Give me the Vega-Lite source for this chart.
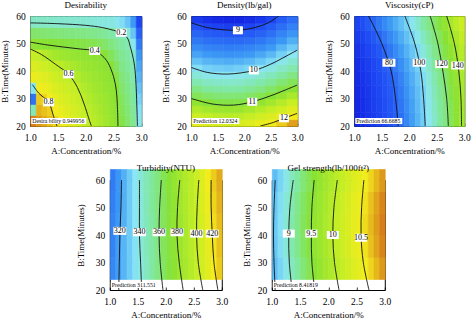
{
"$schema":"https://vega.github.io/schema/vega-lite/v6.json",
"background":"white",
"padding":{"left":0,"top":0,"right":0,"bottom":0},
"config":{
"font":"Liberation Serif",
"view":{"stroke":"#000","strokeWidth":1},
"title":{"font":"Liberation Serif","fontSize":9,"fontWeight":"normal","color":"#000","offset":1,"anchor":"middle"},
"axis":{"labelFont":"Liberation Serif","labelFontSize":9.5,"labelColor":"#000","titleFont":"Liberation Serif","titleFontSize":9,"titleFontWeight":"normal","titleColor":"#000","domain":false,"ticks":true,"tickSize":-3,"tickColor":"#000","tickWidth":0.8,"labelPadding":8,"titlePadding":6,"grid":false,"labelFlush":false,"labelOverlap":false},
"axisX":{"labelPadding":9,"titlePadding":5},
"text":{"font":"Liberation Serif"}
},
"datasets":{
"des":[
{"a":1.05,"b":22,"v":0.915},{"a":1.05,"b":26,"v":0.2},{"a":1.05,"b":30,"v":0.05},{"a":1.05,"b":34,"v":0.15},{"a":1.05,"b":38,"v":0.744},{"a":1.05,"b":42,"v":0.683},{"a":1.05,"b":46,"v":0.623},{"a":1.05,"b":50,"v":0.421},{"a":1.05,"b":54,"v":0.297},{"a":1.05,"b":58,"v":0.186},
{"a":1.15,"b":22,"v":0.886},{"a":1.15,"b":26,"v":0.852},{"a":1.15,"b":30,"v":0.817},{"a":1.15,"b":34,"v":0.772},{"a":1.15,"b":38,"v":0.717},{"a":1.15,"b":42,"v":0.662},{"a":1.15,"b":46,"v":0.607},{"a":1.15,"b":50,"v":0.4},{"a":1.15,"b":54,"v":0.292},{"a":1.15,"b":58,"v":0.184},
{"a":1.25,"b":22,"v":0.858},{"a":1.25,"b":26,"v":0.829},{"a":1.25,"b":30,"v":0.801},{"a":1.25,"b":34,"v":0.749},{"a":1.25,"b":38,"v":0.696},{"a":1.25,"b":42,"v":0.643},{"a":1.25,"b":46,"v":0.568},{"a":1.25,"b":50,"v":0.392},{"a":1.25,"b":54,"v":0.288},{"a":1.25,"b":58,"v":0.184},
{"a":1.35,"b":22,"v":0.83},{"a":1.35,"b":26,"v":0.808},{"a":1.35,"b":30,"v":0.77},{"a":1.35,"b":34,"v":0.721},{"a":1.35,"b":38,"v":0.672},{"a":1.35,"b":42,"v":0.623},{"a":1.35,"b":46,"v":0.524},{"a":1.35,"b":50,"v":0.385},{"a":1.35,"b":54,"v":0.284},{"a":1.35,"b":58,"v":0.182},
{"a":1.45,"b":22,"v":0.798},{"a":1.45,"b":26,"v":0.759},{"a":1.45,"b":30,"v":0.721},{"a":1.45,"b":34,"v":0.682},{"a":1.45,"b":38,"v":0.644},{"a":1.45,"b":42,"v":0.605},{"a":1.45,"b":46,"v":0.494},{"a":1.45,"b":50,"v":0.378},{"a":1.45,"b":54,"v":0.279},{"a":1.45,"b":58,"v":0.18},
{"a":1.55,"b":22,"v":0.76},{"a":1.55,"b":26,"v":0.726},{"a":1.55,"b":30,"v":0.693},{"a":1.55,"b":34,"v":0.659},{"a":1.55,"b":38,"v":0.625},{"a":1.55,"b":42,"v":0.574},{"a":1.55,"b":46,"v":0.472},{"a":1.55,"b":50,"v":0.371},{"a":1.55,"b":54,"v":0.275},{"a":1.55,"b":58,"v":0.178},
{"a":1.65,"b":22,"v":0.73},{"a":1.65,"b":26,"v":0.7},{"a":1.65,"b":30,"v":0.67},{"a":1.65,"b":34,"v":0.64},{"a":1.65,"b":38,"v":0.611},{"a":1.65,"b":42,"v":0.544},{"a":1.65,"b":46,"v":0.457},{"a":1.65,"b":50,"v":0.367},{"a":1.65,"b":54,"v":0.271},{"a":1.65,"b":58,"v":0.177},
{"a":1.75,"b":22,"v":0.7},{"a":1.75,"b":26,"v":0.673},{"a":1.75,"b":30,"v":0.647},{"a":1.75,"b":34,"v":0.62},{"a":1.75,"b":38,"v":0.582},{"a":1.75,"b":42,"v":0.512},{"a":1.75,"b":46,"v":0.442},{"a":1.75,"b":50,"v":0.362},{"a":1.75,"b":54,"v":0.268},{"a":1.75,"b":58,"v":0.175},
{"a":1.85,"b":22,"v":0.669},{"a":1.85,"b":26,"v":0.646},{"a":1.85,"b":30,"v":0.623},{"a":1.85,"b":34,"v":0.6},{"a":1.85,"b":38,"v":0.543},{"a":1.85,"b":42,"v":0.487},{"a":1.85,"b":46,"v":0.43},{"a":1.85,"b":50,"v":0.356},{"a":1.85,"b":54,"v":0.264},{"a":1.85,"b":58,"v":0.174},
{"a":1.95,"b":22,"v":0.637},{"a":1.95,"b":26,"v":0.616},{"a":1.95,"b":30,"v":0.589},{"a":1.95,"b":34,"v":0.547},{"a":1.95,"b":38,"v":0.505},{"a":1.95,"b":42,"v":0.462},{"a":1.95,"b":46,"v":0.42},{"a":1.95,"b":50,"v":0.352},{"a":1.95,"b":54,"v":0.261},{"a":1.95,"b":58,"v":0.172},
{"a":2.05,"b":22,"v":0.605},{"a":2.05,"b":26,"v":0.576},{"a":2.05,"b":30,"v":0.543},{"a":2.05,"b":34,"v":0.511},{"a":2.05,"b":38,"v":0.478},{"a":2.05,"b":42,"v":0.446},{"a":2.05,"b":46,"v":0.413},{"a":2.05,"b":50,"v":0.346},{"a":2.05,"b":54,"v":0.256},{"a":2.05,"b":58,"v":0.17},
{"a":2.15,"b":22,"v":0.566},{"a":2.15,"b":26,"v":0.54},{"a":2.15,"b":30,"v":0.513},{"a":2.15,"b":34,"v":0.487},{"a":2.15,"b":38,"v":0.461},{"a":2.15,"b":42,"v":0.435},{"a":2.15,"b":46,"v":0.408},{"a":2.15,"b":50,"v":0.339},{"a":2.15,"b":54,"v":0.249},{"a":2.15,"b":58,"v":0.167},
{"a":2.25,"b":22,"v":0.527},{"a":2.25,"b":26,"v":0.506},{"a":2.25,"b":30,"v":0.485},{"a":2.25,"b":34,"v":0.464},{"a":2.25,"b":38,"v":0.443},{"a":2.25,"b":42,"v":0.422},{"a":2.25,"b":46,"v":0.401},{"a":2.25,"b":50,"v":0.32},{"a":2.25,"b":54,"v":0.239},{"a":2.25,"b":58,"v":0.164},
{"a":2.35,"b":22,"v":0.488},{"a":2.35,"b":26,"v":0.472},{"a":2.35,"b":30,"v":0.457},{"a":2.35,"b":34,"v":0.441},{"a":2.35,"b":38,"v":0.425},{"a":2.35,"b":42,"v":0.409},{"a":2.35,"b":46,"v":0.37},{"a":2.35,"b":50,"v":0.299},{"a":2.35,"b":54,"v":0.228},{"a":2.35,"b":58,"v":0.162},
{"a":2.45,"b":22,"v":0.449},{"a":2.45,"b":26,"v":0.438},{"a":2.45,"b":30,"v":0.428},{"a":2.45,"b":34,"v":0.417},{"a":2.45,"b":38,"v":0.407},{"a":2.45,"b":42,"v":0.379},{"a":2.45,"b":46,"v":0.325},{"a":2.45,"b":50,"v":0.27},{"a":2.45,"b":54,"v":0.215},{"a":2.45,"b":58,"v":0.159},
{"a":2.55,"b":22,"v":0.411},{"a":2.55,"b":26,"v":0.407},{"a":2.55,"b":30,"v":0.403},{"a":2.55,"b":34,"v":0.391},{"a":2.55,"b":38,"v":0.354},{"a":2.55,"b":42,"v":0.316},{"a":2.55,"b":46,"v":0.279},{"a":2.55,"b":50,"v":0.242},{"a":2.55,"b":54,"v":0.205},{"a":2.55,"b":58,"v":0.149},
{"a":2.65,"b":22,"v":0.351},{"a":2.65,"b":26,"v":0.332},{"a":2.65,"b":30,"v":0.313},{"a":2.65,"b":34,"v":0.294},{"a":2.65,"b":38,"v":0.275},{"a":2.65,"b":42,"v":0.256},{"a":2.65,"b":46,"v":0.237},{"a":2.65,"b":50,"v":0.218},{"a":2.65,"b":54,"v":0.195},{"a":2.65,"b":58,"v":0.132},
{"a":2.75,"b":22,"v":0.297},{"a":2.75,"b":26,"v":0.284},{"a":2.75,"b":30,"v":0.271},{"a":2.75,"b":34,"v":0.258},{"a":2.75,"b":38,"v":0.245},{"a":2.75,"b":42,"v":0.232},{"a":2.75,"b":46,"v":0.219},{"a":2.75,"b":50,"v":0.206},{"a":2.75,"b":54,"v":0.17},{"a":2.75,"b":58,"v":0.11},
{"a":2.85,"b":22,"v":0.242},{"a":2.85,"b":26,"v":0.235},{"a":2.85,"b":30,"v":0.227},{"a":2.85,"b":34,"v":0.22},{"a":2.85,"b":38,"v":0.212},{"a":2.85,"b":42,"v":0.205},{"a":2.85,"b":46,"v":0.187},{"a":2.85,"b":50,"v":0.148},{"a":2.85,"b":54,"v":0.109},{"a":2.85,"b":58,"v":0.07},
{"a":2.95,"b":22,"v":0.15},{"a":2.95,"b":26,"v":0.136},{"a":2.95,"b":30,"v":0.123},{"a":2.95,"b":34,"v":0.109},{"a":2.95,"b":38,"v":0.095},{"a":2.95,"b":42,"v":0.082},{"a":2.95,"b":46,"v":0.068},{"a":2.95,"b":50,"v":0.054},{"a":2.95,"b":54,"v":0.04},{"a":2.95,"b":58,"v":0.027}
],
"dens":[
{"a":1.1,"b":21.25,"v":11.83},{"a":1.1,"b":23.75,"v":11.58},{"a":1.1,"b":26.25,"v":11.33},{"a":1.1,"b":28.75,"v":11.08},{"a":1.1,"b":31.25,"v":10.84},{"a":1.1,"b":33.75,"v":10.62},{"a":1.1,"b":36.25,"v":10.4},{"a":1.1,"b":38.75,"v":10.17},{"a":1.1,"b":41.25,"v":9.97},{"a":1.1,"b":43.75,"v":9.81},{"a":1.1,"b":46.25,"v":9.66},{"a":1.1,"b":48.75,"v":9.5},{"a":1.1,"b":51.25,"v":9.35},{"a":1.1,"b":53.75,"v":9.19},{"a":1.1,"b":56.25,"v":9.04},{"a":1.1,"b":58.75,"v":8.89},
{"a":1.3,"b":21.25,"v":11.73},{"a":1.3,"b":23.75,"v":11.48},{"a":1.3,"b":26.25,"v":11.23},{"a":1.3,"b":28.75,"v":10.98},{"a":1.3,"b":31.25,"v":10.75},{"a":1.3,"b":33.75,"v":10.52},{"a":1.3,"b":36.25,"v":10.3},{"a":1.3,"b":38.75,"v":10.07},{"a":1.3,"b":41.25,"v":9.89},{"a":1.3,"b":43.75,"v":9.74},{"a":1.3,"b":46.25,"v":9.59},{"a":1.3,"b":48.75,"v":9.43},{"a":1.3,"b":51.25,"v":9.28},{"a":1.3,"b":53.75,"v":9.13},{"a":1.3,"b":56.25,"v":8.97},{"a":1.3,"b":58.75,"v":8.82},
{"a":1.5,"b":21.25,"v":11.67},{"a":1.5,"b":23.75,"v":11.42},{"a":1.5,"b":26.25,"v":11.17},{"a":1.5,"b":28.75,"v":10.92},{"a":1.5,"b":31.25,"v":10.7},{"a":1.5,"b":33.75,"v":10.48},{"a":1.5,"b":36.25,"v":10.26},{"a":1.5,"b":38.75,"v":10.04},{"a":1.5,"b":41.25,"v":9.87},{"a":1.5,"b":43.75,"v":9.72},{"a":1.5,"b":46.25,"v":9.56},{"a":1.5,"b":48.75,"v":9.41},{"a":1.5,"b":51.25,"v":9.25},{"a":1.5,"b":53.75,"v":9.1},{"a":1.5,"b":56.25,"v":8.94},{"a":1.5,"b":58.75,"v":8.79},
{"a":1.7,"b":21.25,"v":11.65},{"a":1.7,"b":23.75,"v":11.4},{"a":1.7,"b":26.25,"v":11.15},{"a":1.7,"b":28.75,"v":10.91},{"a":1.7,"b":31.25,"v":10.68},{"a":1.7,"b":33.75,"v":10.46},{"a":1.7,"b":36.25,"v":10.24},{"a":1.7,"b":38.75,"v":10.01},{"a":1.7,"b":41.25,"v":9.85},{"a":1.7,"b":43.75,"v":9.7},{"a":1.7,"b":46.25,"v":9.54},{"a":1.7,"b":48.75,"v":9.38},{"a":1.7,"b":51.25,"v":9.23},{"a":1.7,"b":53.75,"v":9.07},{"a":1.7,"b":56.25,"v":8.92},{"a":1.7,"b":58.75,"v":8.77},
{"a":1.9,"b":21.25,"v":11.67},{"a":1.9,"b":23.75,"v":11.41},{"a":1.9,"b":26.25,"v":11.16},{"a":1.9,"b":28.75,"v":10.92},{"a":1.9,"b":31.25,"v":10.7},{"a":1.9,"b":33.75,"v":10.49},{"a":1.9,"b":36.25,"v":10.27},{"a":1.9,"b":38.75,"v":10.06},{"a":1.9,"b":41.25,"v":9.88},{"a":1.9,"b":43.75,"v":9.72},{"a":1.9,"b":46.25,"v":9.56},{"a":1.9,"b":48.75,"v":9.4},{"a":1.9,"b":51.25,"v":9.23},{"a":1.9,"b":53.75,"v":9.07},{"a":1.9,"b":56.25,"v":8.92},{"a":1.9,"b":58.75,"v":8.77},
{"a":2.1,"b":21.25,"v":11.75},{"a":2.1,"b":23.75,"v":11.5},{"a":2.1,"b":26.25,"v":11.24},{"a":2.1,"b":28.75,"v":10.99},{"a":2.1,"b":31.25,"v":10.77},{"a":2.1,"b":33.75,"v":10.55},{"a":2.1,"b":36.25,"v":10.33},{"a":2.1,"b":38.75,"v":10.11},{"a":2.1,"b":41.25,"v":9.92},{"a":2.1,"b":43.75,"v":9.76},{"a":2.1,"b":46.25,"v":9.6},{"a":2.1,"b":48.75,"v":9.44},{"a":2.1,"b":51.25,"v":9.27},{"a":2.1,"b":53.75,"v":9.11},{"a":2.1,"b":56.25,"v":8.96},{"a":2.1,"b":58.75,"v":8.81},
{"a":2.3,"b":21.25,"v":11.87},{"a":2.3,"b":23.75,"v":11.61},{"a":2.3,"b":26.25,"v":11.36},{"a":2.3,"b":28.75,"v":11.1},{"a":2.3,"b":31.25,"v":10.86},{"a":2.3,"b":33.75,"v":10.64},{"a":2.3,"b":36.25,"v":10.43},{"a":2.3,"b":38.75,"v":10.21},{"a":2.3,"b":41.25,"v":9.99},{"a":2.3,"b":43.75,"v":9.83},{"a":2.3,"b":46.25,"v":9.67},{"a":2.3,"b":48.75,"v":9.5},{"a":2.3,"b":51.25,"v":9.34},{"a":2.3,"b":53.75,"v":9.18},{"a":2.3,"b":56.25,"v":9.02},{"a":2.3,"b":58.75,"v":8.87},
{"a":2.5,"b":21.25,"v":11.98},{"a":2.5,"b":23.75,"v":11.73},{"a":2.5,"b":26.25,"v":11.48},{"a":2.5,"b":28.75,"v":11.23},{"a":2.5,"b":31.25,"v":10.98},{"a":2.5,"b":33.75,"v":10.76},{"a":2.5,"b":36.25,"v":10.54},{"a":2.5,"b":38.75,"v":10.33},{"a":2.5,"b":41.25,"v":10.11},{"a":2.5,"b":43.75,"v":9.92},{"a":2.5,"b":46.25,"v":9.76},{"a":2.5,"b":48.75,"v":9.6},{"a":2.5,"b":51.25,"v":9.44},{"a":2.5,"b":53.75,"v":9.28},{"a":2.5,"b":56.25,"v":9.12},{"a":2.5,"b":58.75,"v":8.96},
{"a":2.7,"b":21.25,"v":12.11},{"a":2.7,"b":23.75,"v":11.87},{"a":2.7,"b":26.25,"v":11.62},{"a":2.7,"b":28.75,"v":11.37},{"a":2.7,"b":31.25,"v":11.12},{"a":2.7,"b":33.75,"v":10.9},{"a":2.7,"b":36.25,"v":10.69},{"a":2.7,"b":38.75,"v":10.48},{"a":2.7,"b":41.25,"v":10.27},{"a":2.7,"b":43.75,"v":10.06},{"a":2.7,"b":46.25,"v":9.89},{"a":2.7,"b":48.75,"v":9.74},{"a":2.7,"b":51.25,"v":9.58},{"a":2.7,"b":53.75,"v":9.43},{"a":2.7,"b":56.25,"v":9.27},{"a":2.7,"b":58.75,"v":9.12},
{"a":2.9,"b":21.25,"v":12.26},{"a":2.9,"b":23.75,"v":12.01},{"a":2.9,"b":26.25,"v":11.77},{"a":2.9,"b":28.75,"v":11.52},{"a":2.9,"b":31.25,"v":11.28},{"a":2.9,"b":33.75,"v":11.03},{"a":2.9,"b":36.25,"v":10.83},{"a":2.9,"b":38.75,"v":10.63},{"a":2.9,"b":41.25,"v":10.42},{"a":2.9,"b":43.75,"v":10.22},{"a":2.9,"b":46.25,"v":10.02},{"a":2.9,"b":48.75,"v":9.86},{"a":2.9,"b":51.25,"v":9.71},{"a":2.9,"b":53.75,"v":9.56},{"a":2.9,"b":56.25,"v":9.41},{"a":2.9,"b":58.75,"v":9.26}
],
"visc":[
{"a":1.05,"b":22.5,"v":67.6},{"a":1.15,"b":22.5,"v":69.3},{"a":1.25,"b":22.5,"v":71.0},{"a":1.35,"b":22.5,"v":72.6},{"a":1.45,"b":22.5,"v":74.3},{"a":1.55,"b":22.5,"v":76.0},{"a":1.65,"b":22.5,"v":77.7},{"a":1.75,"b":22.5,"v":79.3},{"a":1.85,"b":22.5,"v":82.4},{"a":1.95,"b":22.5,"v":86.5},{"a":2.05,"b":22.5,"v":90.6},{"a":2.15,"b":22.5,"v":94.7},{"a":2.25,"b":22.5,"v":98.8},{"a":2.35,"b":22.5,"v":103.3},{"a":2.45,"b":22.5,"v":108.1},{"a":2.55,"b":22.5,"v":112.9},{"a":2.65,"b":22.5,"v":117.6},{"a":2.75,"b":22.5,"v":124.0},{"a":2.85,"b":22.5,"v":132.0},{"a":2.95,"b":22.5,"v":140.0},
{"a":1.05,"b":27.5,"v":67.8},{"a":1.15,"b":27.5,"v":69.5},{"a":1.25,"b":27.5,"v":71.2},{"a":1.35,"b":27.5,"v":72.9},{"a":1.45,"b":27.5,"v":74.6},{"a":1.55,"b":27.5,"v":76.4},{"a":1.65,"b":27.5,"v":78.1},{"a":1.75,"b":27.5,"v":79.8},{"a":1.85,"b":27.5,"v":83.5},{"a":1.95,"b":27.5,"v":87.4},{"a":2.05,"b":27.5,"v":91.4},{"a":2.15,"b":27.5,"v":95.3},{"a":2.25,"b":27.5,"v":99.2},{"a":2.35,"b":27.5,"v":103.8},{"a":2.45,"b":27.5,"v":108.6},{"a":2.55,"b":27.5,"v":113.3},{"a":2.65,"b":27.5,"v":118.1},{"a":2.75,"b":27.5,"v":124.8},{"a":2.85,"b":27.5,"v":132.8},{"a":2.95,"b":27.5,"v":141.0},
{"a":1.05,"b":32.5,"v":68.2},{"a":1.15,"b":32.5,"v":69.9},{"a":1.25,"b":32.5,"v":71.7},{"a":1.35,"b":32.5,"v":73.4},{"a":1.45,"b":32.5,"v":75.1},{"a":1.55,"b":32.5,"v":76.9},{"a":1.65,"b":32.5,"v":78.6},{"a":1.75,"b":32.5,"v":80.8},{"a":1.85,"b":32.5,"v":84.6},{"a":1.95,"b":32.5,"v":88.5},{"a":2.05,"b":32.5,"v":92.3},{"a":2.15,"b":32.5,"v":96.2},{"a":2.25,"b":32.5,"v":100.0},{"a":2.35,"b":32.5,"v":104.9},{"a":2.45,"b":32.5,"v":109.8},{"a":2.55,"b":32.5,"v":114.6},{"a":2.65,"b":32.5,"v":119.5},{"a":2.75,"b":32.5,"v":126.7},{"a":2.85,"b":32.5,"v":134.1},{"a":2.95,"b":32.5,"v":141.9},
{"a":1.05,"b":37.5,"v":68.7},{"a":1.15,"b":37.5,"v":70.5},{"a":1.25,"b":37.5,"v":72.2},{"a":1.35,"b":37.5,"v":74.0},{"a":1.45,"b":37.5,"v":75.8},{"a":1.55,"b":37.5,"v":77.5},{"a":1.65,"b":37.5,"v":79.3},{"a":1.75,"b":37.5,"v":82.3},{"a":1.85,"b":37.5,"v":86.0},{"a":1.95,"b":37.5,"v":89.8},{"a":2.05,"b":37.5,"v":93.6},{"a":2.15,"b":37.5,"v":97.3},{"a":2.25,"b":37.5,"v":101.5},{"a":2.35,"b":37.5,"v":106.3},{"a":2.45,"b":37.5,"v":111.2},{"a":2.55,"b":37.5,"v":116.1},{"a":2.65,"b":37.5,"v":121.4},{"a":2.75,"b":37.5,"v":128.6},{"a":2.85,"b":37.5,"v":135.7},{"a":2.95,"b":37.5,"v":143.7},
{"a":1.05,"b":42.5,"v":69.4},{"a":1.15,"b":42.5,"v":71.2},{"a":1.25,"b":42.5,"v":73.1},{"a":1.35,"b":42.5,"v":74.9},{"a":1.45,"b":42.5,"v":76.7},{"a":1.55,"b":42.5,"v":78.5},{"a":1.65,"b":42.5,"v":80.7},{"a":1.75,"b":42.5,"v":84.4},{"a":1.85,"b":42.5,"v":88.0},{"a":1.95,"b":42.5,"v":91.6},{"a":2.05,"b":42.5,"v":95.3},{"a":2.15,"b":42.5,"v":98.9},{"a":2.25,"b":42.5,"v":103.4},{"a":2.35,"b":42.5,"v":108.3},{"a":2.45,"b":42.5,"v":113.2},{"a":2.55,"b":42.5,"v":118.1},{"a":2.65,"b":42.5,"v":124.1},{"a":2.75,"b":42.5,"v":131.0},{"a":2.85,"b":42.5,"v":137.9},{"a":2.95,"b":42.5,"v":146.1},
{"a":1.05,"b":47.5,"v":70.5},{"a":1.15,"b":47.5,"v":72.4},{"a":1.25,"b":47.5,"v":74.4},{"a":1.35,"b":47.5,"v":76.3},{"a":1.45,"b":47.5,"v":78.2},{"a":1.55,"b":47.5,"v":80.3},{"a":1.65,"b":47.5,"v":83.7},{"a":1.75,"b":47.5,"v":87.1},{"a":1.85,"b":47.5,"v":90.5},{"a":1.95,"b":47.5,"v":93.9},{"a":2.05,"b":47.5,"v":97.3},{"a":2.15,"b":47.5,"v":101.0},{"a":2.25,"b":47.5,"v":105.9},{"a":2.35,"b":47.5,"v":110.7},{"a":2.45,"b":47.5,"v":115.6},{"a":2.55,"b":47.5,"v":120.7},{"a":2.65,"b":47.5,"v":127.3},{"a":2.75,"b":47.5,"v":134.0},{"a":2.85,"b":47.5,"v":140.8},{"a":2.95,"b":47.5,"v":149.3},
{"a":1.05,"b":52.5,"v":72.0},{"a":1.15,"b":52.5,"v":74.1},{"a":1.25,"b":52.5,"v":76.1},{"a":1.35,"b":52.5,"v":78.2},{"a":1.45,"b":52.5,"v":80.3},{"a":1.55,"b":52.5,"v":83.6},{"a":1.65,"b":52.5,"v":86.8},{"a":1.75,"b":52.5,"v":90.0},{"a":1.85,"b":52.5,"v":93.2},{"a":1.95,"b":52.5,"v":96.5},{"a":2.05,"b":52.5,"v":99.7},{"a":2.15,"b":52.5,"v":104.2},{"a":2.25,"b":52.5,"v":108.8},{"a":2.35,"b":52.5,"v":113.5},{"a":2.45,"b":52.5,"v":118.1},{"a":2.55,"b":52.5,"v":124.0},{"a":2.65,"b":52.5,"v":130.7},{"a":2.75,"b":52.5,"v":137.3},{"a":2.85,"b":52.5,"v":145.0},{"a":2.95,"b":52.5,"v":153.3},
{"a":1.05,"b":57.5,"v":74.1},{"a":1.15,"b":57.5,"v":76.3},{"a":1.25,"b":57.5,"v":78.5},{"a":1.35,"b":57.5,"v":80.9},{"a":1.45,"b":57.5,"v":84.0},{"a":1.55,"b":57.5,"v":87.1},{"a":1.65,"b":57.5,"v":90.2},{"a":1.75,"b":57.5,"v":93.2},{"a":1.85,"b":57.5,"v":96.3},{"a":1.95,"b":57.5,"v":99.4},{"a":2.05,"b":57.5,"v":103.6},{"a":2.15,"b":57.5,"v":108.0},{"a":2.25,"b":57.5,"v":112.4},{"a":2.35,"b":57.5,"v":116.9},{"a":2.45,"b":57.5,"v":122.0},{"a":2.55,"b":57.5,"v":128.7},{"a":2.65,"b":57.5,"v":135.3},{"a":2.75,"b":57.5,"v":142.4},{"a":2.85,"b":57.5,"v":150.5},{"a":2.95,"b":57.5,"v":158.5}
],
"turb":[
{"a":1.05,"b":24,"v":314},{"a":1.15,"b":24,"v":319},{"a":1.25,"b":24,"v":324},{"a":1.35,"b":24,"v":329},{"a":1.45,"b":24,"v":334},{"a":1.55,"b":24,"v":339},{"a":1.65,"b":24,"v":344},{"a":1.75,"b":24,"v":350},{"a":1.85,"b":24,"v":355},{"a":1.95,"b":24,"v":360},{"a":2.05,"b":24,"v":366},{"a":2.15,"b":24,"v":371},{"a":2.25,"b":24,"v":377},{"a":2.35,"b":24,"v":382},{"a":2.45,"b":24,"v":388},{"a":2.55,"b":24,"v":394},{"a":2.65,"b":24,"v":400},{"a":2.75,"b":24,"v":407},{"a":2.85,"b":24,"v":415},{"a":2.95,"b":24,"v":422},
{"a":1.05,"b":32,"v":313},{"a":1.15,"b":32,"v":319},{"a":1.25,"b":32,"v":324},{"a":1.35,"b":32,"v":329},{"a":1.45,"b":32,"v":334},{"a":1.55,"b":32,"v":340},{"a":1.65,"b":32,"v":345},{"a":1.75,"b":32,"v":350},{"a":1.85,"b":32,"v":355},{"a":1.95,"b":32,"v":361},{"a":2.05,"b":32,"v":366},{"a":2.15,"b":32,"v":372},{"a":2.25,"b":32,"v":378},{"a":2.35,"b":32,"v":383},{"a":2.45,"b":32,"v":389},{"a":2.55,"b":32,"v":395},{"a":2.65,"b":32,"v":401},{"a":2.75,"b":32,"v":409},{"a":2.85,"b":32,"v":417},{"a":2.95,"b":32,"v":424},
{"a":1.05,"b":40,"v":313},{"a":1.15,"b":40,"v":318},{"a":1.25,"b":40,"v":323},{"a":1.35,"b":40,"v":329},{"a":1.45,"b":40,"v":335},{"a":1.55,"b":40,"v":340},{"a":1.65,"b":40,"v":345},{"a":1.75,"b":40,"v":350},{"a":1.85,"b":40,"v":356},{"a":1.95,"b":40,"v":361},{"a":2.05,"b":40,"v":367},{"a":2.15,"b":40,"v":373},{"a":2.25,"b":40,"v":378},{"a":2.35,"b":40,"v":384},{"a":2.45,"b":40,"v":390},{"a":2.55,"b":40,"v":396},{"a":2.65,"b":40,"v":402},{"a":2.75,"b":40,"v":411},{"a":2.85,"b":40,"v":418},{"a":2.95,"b":40,"v":425},
{"a":1.05,"b":48,"v":312},{"a":1.15,"b":48,"v":317},{"a":1.25,"b":48,"v":323},{"a":1.35,"b":48,"v":329},{"a":1.45,"b":48,"v":335},{"a":1.55,"b":48,"v":340},{"a":1.65,"b":48,"v":346},{"a":1.75,"b":48,"v":351},{"a":1.85,"b":48,"v":356},{"a":1.95,"b":48,"v":361},{"a":2.05,"b":48,"v":367},{"a":2.15,"b":48,"v":373},{"a":2.25,"b":48,"v":379},{"a":2.35,"b":48,"v":385},{"a":2.45,"b":48,"v":391},{"a":2.55,"b":48,"v":396},{"a":2.65,"b":48,"v":404},{"a":2.75,"b":48,"v":412},{"a":2.85,"b":48,"v":420},{"a":2.95,"b":48,"v":427},
{"a":1.05,"b":56,"v":311},{"a":1.15,"b":56,"v":317},{"a":1.25,"b":56,"v":323},{"a":1.35,"b":56,"v":329},{"a":1.45,"b":56,"v":335},{"a":1.55,"b":56,"v":341},{"a":1.65,"b":56,"v":346},{"a":1.75,"b":56,"v":351},{"a":1.85,"b":56,"v":356},{"a":1.95,"b":56,"v":362},{"a":2.05,"b":56,"v":368},{"a":2.15,"b":56,"v":374},{"a":2.25,"b":56,"v":380},{"a":2.35,"b":56,"v":386},{"a":2.45,"b":56,"v":391},{"a":2.55,"b":56,"v":397},{"a":2.65,"b":56,"v":405},{"a":2.75,"b":56,"v":414},{"a":2.85,"b":56,"v":422},{"a":2.95,"b":56,"v":429}
],
"gel":[
{"a":1.05,"b":24,"v":8.53},{"a":1.15,"b":24,"v":8.69},{"a":1.25,"b":24,"v":8.86},{"a":1.35,"b":24,"v":9.02},{"a":1.45,"b":24,"v":9.15},{"a":1.55,"b":24,"v":9.28},{"a":1.65,"b":24,"v":9.4},{"a":1.75,"b":24,"v":9.53},{"a":1.85,"b":24,"v":9.64},{"a":1.95,"b":24,"v":9.76},{"a":2.05,"b":24,"v":9.88},{"a":2.15,"b":24,"v":9.99},{"a":2.25,"b":24,"v":10.1},{"a":2.35,"b":24,"v":10.19},{"a":2.45,"b":24,"v":10.29},{"a":2.55,"b":24,"v":10.38},{"a":2.65,"b":24,"v":10.47},{"a":2.75,"b":24,"v":10.57},{"a":2.85,"b":24,"v":10.66},{"a":2.95,"b":24,"v":10.75},
{"a":1.05,"b":32,"v":8.59},{"a":1.15,"b":32,"v":8.75},{"a":1.25,"b":32,"v":8.92},{"a":1.35,"b":32,"v":9.08},{"a":1.45,"b":32,"v":9.21},{"a":1.55,"b":32,"v":9.34},{"a":1.65,"b":32,"v":9.46},{"a":1.75,"b":32,"v":9.59},{"a":1.85,"b":32,"v":9.7},{"a":1.95,"b":32,"v":9.82},{"a":2.05,"b":32,"v":9.94},{"a":2.15,"b":32,"v":10.05},{"a":2.25,"b":32,"v":10.16},{"a":2.35,"b":32,"v":10.25},{"a":2.45,"b":32,"v":10.35},{"a":2.55,"b":32,"v":10.44},{"a":2.65,"b":32,"v":10.53},{"a":2.75,"b":32,"v":10.63},{"a":2.85,"b":32,"v":10.72},{"a":2.95,"b":32,"v":10.81},
{"a":1.05,"b":40,"v":8.61},{"a":1.15,"b":40,"v":8.77},{"a":1.25,"b":40,"v":8.94},{"a":1.35,"b":40,"v":9.1},{"a":1.45,"b":40,"v":9.23},{"a":1.55,"b":40,"v":9.36},{"a":1.65,"b":40,"v":9.48},{"a":1.75,"b":40,"v":9.61},{"a":1.85,"b":40,"v":9.72},{"a":1.95,"b":40,"v":9.84},{"a":2.05,"b":40,"v":9.96},{"a":2.15,"b":40,"v":10.07},{"a":2.25,"b":40,"v":10.18},{"a":2.35,"b":40,"v":10.27},{"a":2.45,"b":40,"v":10.37},{"a":2.55,"b":40,"v":10.46},{"a":2.65,"b":40,"v":10.55},{"a":2.75,"b":40,"v":10.65},{"a":2.85,"b":40,"v":10.74},{"a":2.95,"b":40,"v":10.83},
{"a":1.05,"b":48,"v":8.59},{"a":1.15,"b":48,"v":8.75},{"a":1.25,"b":48,"v":8.92},{"a":1.35,"b":48,"v":9.08},{"a":1.45,"b":48,"v":9.21},{"a":1.55,"b":48,"v":9.34},{"a":1.65,"b":48,"v":9.46},{"a":1.75,"b":48,"v":9.59},{"a":1.85,"b":48,"v":9.7},{"a":1.95,"b":48,"v":9.82},{"a":2.05,"b":48,"v":9.94},{"a":2.15,"b":48,"v":10.05},{"a":2.25,"b":48,"v":10.16},{"a":2.35,"b":48,"v":10.25},{"a":2.45,"b":48,"v":10.35},{"a":2.55,"b":48,"v":10.44},{"a":2.65,"b":48,"v":10.53},{"a":2.75,"b":48,"v":10.63},{"a":2.85,"b":48,"v":10.72},{"a":2.95,"b":48,"v":10.81},
{"a":1.05,"b":56,"v":8.53},{"a":1.15,"b":56,"v":8.69},{"a":1.25,"b":56,"v":8.86},{"a":1.35,"b":56,"v":9.02},{"a":1.45,"b":56,"v":9.15},{"a":1.55,"b":56,"v":9.28},{"a":1.65,"b":56,"v":9.4},{"a":1.75,"b":56,"v":9.53},{"a":1.85,"b":56,"v":9.64},{"a":1.95,"b":56,"v":9.76},{"a":2.05,"b":56,"v":9.88},{"a":2.15,"b":56,"v":9.99},{"a":2.25,"b":56,"v":10.1},{"a":2.35,"b":56,"v":10.19},{"a":2.45,"b":56,"v":10.29},{"a":2.55,"b":56,"v":10.38},{"a":2.65,"b":56,"v":10.47},{"a":2.75,"b":56,"v":10.57},{"a":2.85,"b":56,"v":10.66},{"a":2.95,"b":56,"v":10.75}
],
"desC":[
{"c":"0.2","o":0,"a":1,"b":57.5},{"c":"0.2","o":1,"a":1.5,"b":57.2},{"c":"0.2","o":2,"a":2,"b":56.6},{"c":"0.2","o":3,"a":2.3,"b":55.8},{"c":"0.2","o":4,"a":2.5,"b":54.8},{"c":"0.2","o":5,"a":2.64,"b":53.9},{"c":"0.2","o":6,"a":2.75,"b":52},{"c":"0.2","o":7,"a":2.8,"b":49},{"c":"0.2","o":8,"a":2.87,"b":43},{"c":"0.2","o":9,"a":2.9,"b":37},{"c":"0.2","o":10,"a":2.92,"b":27.3},{"c":"0.2","o":11,"a":2.93,"b":20},
{"c":"0.4","o":0,"a":1,"b":50.5},{"c":"0.4","o":1,"a":1.3,"b":49.5},{"c":"0.4","o":2,"a":1.6,"b":48.7},{"c":"0.4","o":3,"a":1.9,"b":48},{"c":"0.4","o":4,"a":2.16,"b":47.3},{"c":"0.4","o":5,"a":2.3,"b":45.5},{"c":"0.4","o":6,"a":2.4,"b":43},{"c":"0.4","o":7,"a":2.5,"b":38},{"c":"0.4","o":8,"a":2.55,"b":33},{"c":"0.4","o":9,"a":2.57,"b":27},{"c":"0.4","o":10,"a":2.58,"b":20},
{"c":"0.6","o":0,"a":1,"b":48},{"c":"0.6","o":1,"a":1.2,"b":46},{"c":"0.6","o":2,"a":1.45,"b":42.5},{"c":"0.6","o":3,"a":1.69,"b":38.8},{"c":"0.6","o":4,"a":1.85,"b":34},{"c":"0.6","o":5,"a":1.97,"b":28},{"c":"0.6","o":6,"a":2.05,"b":23},{"c":"0.6","o":7,"a":2.1,"b":20},
{"c":"0.8","o":0,"a":1.04,"b":35},{"c":"0.8","o":1,"a":1.15,"b":32},{"c":"0.8","o":2,"a":1.33,"b":28.6},{"c":"0.8","o":3,"a":1.42,"b":23.5},{"c":"0.8","o":4,"a":1.48,"b":20}
],
"desL":[{"c":"0.2","a":2.64,"b":53.9},{"c":"0.4","a":2.16,"b":47.3},{"c":"0.6","a":1.69,"b":38.8},{"c":"0.8","a":1.33,"b":28.6}],
"desP":[{"t":"Desira bility 0.949956","a":1,"b":20}],
"densC":[
{"c":"9","o":0,"a":1,"b":57.5},{"c":"9","o":1,"a":1.3,"b":55.8},{"c":"9","o":2,"a":1.6,"b":55},{"c":"9","o":3,"a":1.88,"b":54.8},{"c":"9","o":4,"a":2.2,"b":55.8},{"c":"9","o":5,"a":2.45,"b":57.5},{"c":"9","o":6,"a":2.65,"b":60},
{"c":"10","o":0,"a":1,"b":41.3},{"c":"10","o":1,"a":1.3,"b":39.5},{"c":"10","o":2,"a":1.7,"b":38.9},{"c":"10","o":3,"a":2.18,"b":40.2},{"c":"10","o":4,"a":2.5,"b":42.5},{"c":"10","o":5,"a":2.8,"b":45.5},{"c":"10","o":6,"a":3,"b":47.6},
{"c":"11","o":0,"a":1,"b":30},{"c":"11","o":1,"a":1.4,"b":28},{"c":"11","o":2,"a":1.8,"b":27.6},{"c":"11","o":3,"a":2.15,"b":28.8},{"c":"11","o":4,"a":2.5,"b":31},{"c":"11","o":5,"a":2.8,"b":33.3},{"c":"11","o":6,"a":3,"b":34.9},
{"c":"12","o":0,"a":2.3,"b":20},{"c":"12","o":1,"a":2.55,"b":21.3},{"c":"12","o":2,"a":2.75,"b":22.8},{"c":"12","o":3,"a":3,"b":24.6}
],
"densL":[{"c":"9","a":1.88,"b":54.8},{"c":"10","a":2.18,"b":40.2},{"c":"11","a":2.15,"b":28.8},{"c":"12","a":2.75,"b":22.8}],
"densP":[{"t":"Prediction 12.0324","a":1,"b":20}],
"viscC":[
{"c":"80","o":0,"a":1.8,"b":20},{"c":"80","o":1,"a":1.75,"b":30},{"c":"80","o":2,"a":1.67,"b":40},{"c":"80","o":3,"a":1.5,"b":50},{"c":"80","o":4,"a":1.26,"b":60},
{"c":"100","o":0,"a":2.29,"b":20},{"c":"100","o":1,"a":2.26,"b":30},{"c":"100","o":2,"a":2.21,"b":40},{"c":"100","o":3,"a":2.1,"b":50},{"c":"100","o":4,"a":1.92,"b":60},
{"c":"120","o":0,"a":2.71,"b":20},{"c":"120","o":1,"a":2.68,"b":30},{"c":"120","o":2,"a":2.61,"b":40},{"c":"120","o":3,"a":2.52,"b":50},{"c":"120","o":4,"a":2.38,"b":60},
{"c":"140","o":0,"a":2.95,"b":20},{"c":"140","o":1,"a":2.94,"b":30},{"c":"140","o":2,"a":2.9,"b":40},{"c":"140","o":3,"a":2.82,"b":50},{"c":"140","o":4,"a":2.68,"b":60}
],
"viscL":[{"c":"80","a":1.63,"b":43},{"c":"100","a":2.18,"b":43},{"c":"120","a":2.59,"b":42.5},{"c":"140","a":2.88,"b":42}],
"viscP":[{"t":"Prediction 66.6685","a":1,"b":20}],
"turbC":[
{"c":"320","o":0,"a":1.16,"b":20},{"c":"320","o":1,"a":1.17,"b":30},{"c":"320","o":2,"a":1.18,"b":40},{"c":"320","o":3,"a":1.2,"b":50},{"c":"320","o":4,"a":1.21,"b":60},
{"c":"340","o":0,"a":1.57,"b":20},{"c":"340","o":1,"a":1.55,"b":30},{"c":"340","o":2,"a":1.53,"b":40},{"c":"340","o":3,"a":1.53,"b":50},{"c":"340","o":4,"a":1.53,"b":60},
{"c":"360","o":0,"a":1.95,"b":20},{"c":"360","o":1,"a":1.9,"b":30},{"c":"360","o":2,"a":1.88,"b":40},{"c":"360","o":3,"a":1.89,"b":50},{"c":"360","o":4,"a":1.92,"b":60},
{"c":"380","o":0,"a":2.31,"b":20},{"c":"380","o":1,"a":2.24,"b":30},{"c":"380","o":2,"a":2.2,"b":40},{"c":"380","o":3,"a":2.21,"b":50},{"c":"380","o":4,"a":2.25,"b":60},
{"c":"400","o":0,"a":2.66,"b":20},{"c":"400","o":1,"a":2.58,"b":30},{"c":"400","o":2,"a":2.55,"b":40},{"c":"400","o":3,"a":2.56,"b":50},{"c":"400","o":4,"a":2.59,"b":60},
{"c":"420","o":0,"a":2.93,"b":20},{"c":"420","o":1,"a":2.86,"b":30},{"c":"420","o":2,"a":2.83,"b":40},{"c":"420","o":3,"a":2.81,"b":50},{"c":"420","o":4,"a":2.81,"b":60}
],
"turbL":[{"c":"320","a":1.18,"b":41.5},{"c":"340","a":1.53,"b":41},{"c":"360","a":1.88,"b":41},{"c":"380","a":2.2,"b":41},{"c":"400","a":2.55,"b":40.5},{"c":"420","a":2.83,"b":40.5}],
"turbP":[{"t":"Prediction 311.551","a":1,"b":20}],
"gelC":[
{"c":"8.5","o":0,"a":1.06,"b":20},{"c":"8.5","o":1,"a":1.04,"b":30},{"c":"8.5","o":2,"a":1.03,"b":40},{"c":"8.5","o":3,"a":1.04,"b":50},{"c":"8.5","o":4,"a":1.06,"b":60},
{"c":"9","o":0,"a":1.36,"b":20},{"c":"9","o":1,"a":1.31,"b":30},{"c":"9","o":2,"a":1.3,"b":40},{"c":"9","o":3,"a":1.32,"b":50},{"c":"9","o":4,"a":1.38,"b":60},
{"c":"9.5","o":0,"a":1.76,"b":20},{"c":"9.5","o":1,"a":1.71,"b":30},{"c":"9.5","o":2,"a":1.7,"b":40},{"c":"9.5","o":3,"a":1.71,"b":50},{"c":"9.5","o":4,"a":1.75,"b":60},
{"c":"10","o":0,"a":2.19,"b":20},{"c":"10","o":1,"a":2.11,"b":30},{"c":"10","o":2,"a":2.08,"b":40},{"c":"10","o":3,"a":2.1,"b":50},{"c":"10","o":4,"a":2.16,"b":60},
{"c":"10.5","o":0,"a":2.72,"b":20},{"c":"10.5","o":1,"a":2.62,"b":30},{"c":"10.5","o":2,"a":2.58,"b":40},{"c":"10.5","o":3,"a":2.59,"b":50},{"c":"10.5","o":4,"a":2.63,"b":60}
],
"gelL":[{"c":"9","a":1.3,"b":40.5},{"c":"9.5","a":1.7,"b":40.5},{"c":"10","a":2.08,"b":40},{"c":"10.5","a":2.58,"b":39}],
"gelP":[{"t":"Prediction 8.41819","a":1,"b":20}]
},
"vconcat":[
{"hconcat":[
 {"hconcat":[
  {"width":111,"height":110,"title":"Desirability","resolve":{"scale":{"x":"independent","y":"independent"}},
   "layer":[
    {"data":{"name":"des"},"mark":{"type":"rect","strokeWidth":0.6},
     "encoding":{
      "x":{"field":"a","type":"quantitative","bin":{"step":0.1,"extent":[1,3]},"scale":{"domain":[1,3],"nice":false,"zero":false},"axis":null},
      "y":{"field":"b","type":"quantitative","bin":{"step":4,"extent":[20,60]},"scale":{"domain":[20,60],"nice":false,"zero":false},"axis":null},
      "color":{"field":"v","type":"quantitative","scale":{"domain":[0,0.03,0.07,0.14,0.22,0.38,0.62,0.77,0.93],"range":["#0c0cd8","#1f4cf5","#3c9af5","#8ae6f5","#80e8a0","#86e234","#c6ee24","#f4ec1c","#d4781a"],"interpolate":"rgb"},"legend":null},
      "stroke":{"field":"v","type":"quantitative","scale":{"domain":[0,0.03,0.07,0.14,0.22,0.38,0.62,0.77,0.93],"range":["#0c0cd8","#1f4cf5","#3c9af5","#8ae6f5","#80e8a0","#86e234","#c6ee24","#f4ec1c","#d4781a"],"interpolate":"rgb"},"legend":null}}},
    {"encoding":{
      "x":{"field":"a","type":"quantitative","scale":{"domain":[1,3],"nice":false,"zero":false},"axis":{"orient":"bottom","values":[1,1.5,2,2.5,3],"format":".1f"},"title":"A:Concentration/%"},
      "y":{"field":"b","type":"quantitative","scale":{"domain":[20,60],"nice":false,"zero":false},"axis":{"orient":"left","values":[20,30,40,50,60]},"title":"B:Time(Minutes)"}},
     "layer":[
      {"data":{"name":"desC"},"mark":{"type":"line","color":"#111","strokeWidth":0.9,"interpolate":"catmull-rom","clip":true},"encoding":{"detail":{"field":"c","type":"nominal"},"order":{"field":"o","type":"quantitative"}}},
      {"data":{"name":"desL"},"mark":{"type":"point","shape":"M-1,-0.73L1,-0.73L1,0.73L-1,0.73Z","size":121,"filled":true,"color":"#fff","opacity":1,"strokeWidth":0}},
      {"data":{"name":"desL"},"mark":{"type":"text","fontSize":8,"color":"#000","baseline":"middle"},"encoding":{"text":{"field":"c"}}},
      {"data":{"name":"desP"},"mark":{"type":"point","shape":"M-1,-0.107L1,-0.107L1,0.107L-1,0.107Z","size":3025,"filled":true,"color":"#fff","opacity":1,"strokeWidth":0,"xOffset":28.5,"yOffset":-5}},
      {"data":{"name":"desP"},"mark":{"type":"text","fontSize":5.8,"color":"#000","align":"left","baseline":"middle","dx":2,"dy":-5},"encoding":{"text":{"field":"t"}}}
     ]}
   ]},
  {"width":106,"height":110,"title":"Density(lb/gal)","resolve":{"scale":{"x":"independent","y":"independent"}},
   "layer":[
    {"data":{"name":"dens"},"mark":{"type":"rect","strokeWidth":0.6},
     "encoding":{
      "x":{"field":"a","type":"quantitative","bin":{"step":0.2,"extent":[1,3]},"scale":{"domain":[1,3],"nice":false,"zero":false},"axis":null},
      "y":{"field":"b","type":"quantitative","bin":{"step":2.5,"extent":[20,60]},"scale":{"domain":[20,60],"nice":false,"zero":false},"axis":null},
      "color":{"field":"v","type":"quantitative","scale":{"domain":[8.6,9.0,9.6,10.0,10.5,11.0,11.5,12.0,12.4],"range":["#0c0cd8","#1f4cf5","#3c9af5","#8ae6f5","#80e8a0","#86e234","#c6ee24","#f4ec1c","#d4781a"],"interpolate":"rgb"},"legend":null},
      "stroke":{"field":"v","type":"quantitative","scale":{"domain":[8.6,9.0,9.6,10.0,10.5,11.0,11.5,12.0,12.4],"range":["#0c0cd8","#1f4cf5","#3c9af5","#8ae6f5","#80e8a0","#86e234","#c6ee24","#f4ec1c","#d4781a"],"interpolate":"rgb"},"legend":null}}},
    {"encoding":{
      "x":{"field":"a","type":"quantitative","scale":{"domain":[1,3],"nice":false,"zero":false},"axis":{"orient":"bottom","values":[1,1.5,2,2.5,3],"format":".1f"},"title":"A:Concentration/%"},
      "y":{"field":"b","type":"quantitative","scale":{"domain":[20,60],"nice":false,"zero":false},"axis":{"orient":"left","values":[20,30,40,50,60]},"title":"B:Time(Minutes)"}},
     "layer":[
      {"data":{"name":"densC"},"mark":{"type":"line","color":"#111","strokeWidth":0.9,"interpolate":"catmull-rom","clip":true},"encoding":{"detail":{"field":"c","type":"nominal"},"order":{"field":"o","type":"quantitative"}}},
      {"data":{"name":"densL"},"mark":{"type":"point","shape":"M-1,-0.8L1,-0.8L1,0.8L-1,0.8Z","size":100,"filled":true,"color":"#fff","opacity":1,"strokeWidth":0}},
      {"data":{"name":"densL"},"mark":{"type":"text","fontSize":8,"color":"#000","baseline":"middle"},"encoding":{"text":{"field":"c"}}},
      {"data":{"name":"densP"},"mark":{"type":"point","shape":"M-1,-0.125L1,-0.125L1,0.125L-1,0.125Z","size":2209,"filled":true,"color":"#fff","opacity":1,"strokeWidth":0,"xOffset":24.5,"yOffset":-5}},
      {"data":{"name":"densP"},"mark":{"type":"text","fontSize":5.8,"color":"#000","align":"left","baseline":"middle","dx":2,"dy":-5},"encoding":{"text":{"field":"t"}}}
     ]}
   ]}
 ],"spacing":13,"resolve":{"scale":{"color":"independent","stroke":"independent"}}},
 {"width":110,"height":110,"title":"Viscosity(cP)","resolve":{"scale":{"x":"independent","y":"independent"}},
   "layer":[
    {"data":{"name":"visc"},"mark":{"type":"rect","strokeWidth":0.6},
     "encoding":{
      "x":{"field":"a","type":"quantitative","bin":{"step":0.1,"extent":[1,3]},"scale":{"domain":[1,3],"nice":false,"zero":false},"axis":null},
      "y":{"field":"b","type":"quantitative","bin":{"step":5,"extent":[20,60]},"scale":{"domain":[20,60],"nice":false,"zero":false},"axis":null},
      "color":{"field":"v","type":"quantitative","scale":{"domain":[62,76,90,103,113,130,155,185,215],"range":["#0c0cd8","#1f4cf5","#3c9af5","#8ae6f5","#80e8a0","#86e234","#c6ee24","#f4ec1c","#d4781a"],"interpolate":"rgb"},"legend":null},
      "stroke":{"field":"v","type":"quantitative","scale":{"domain":[62,76,90,103,113,130,155,185,215],"range":["#0c0cd8","#1f4cf5","#3c9af5","#8ae6f5","#80e8a0","#86e234","#c6ee24","#f4ec1c","#d4781a"],"interpolate":"rgb"},"legend":null}}},
    {"encoding":{
      "x":{"field":"a","type":"quantitative","scale":{"domain":[1,3],"nice":false,"zero":false},"axis":{"orient":"bottom","values":[1,1.5,2,2.5,3],"format":".1f"},"title":"A:Concentration/%"},
      "y":{"field":"b","type":"quantitative","scale":{"domain":[20,60],"nice":false,"zero":false},"axis":{"orient":"left","values":[20,30,40,50,60]},"title":"B:Time(Minutes)"}},
     "layer":[
      {"data":{"name":"viscC"},"mark":{"type":"line","color":"#111","strokeWidth":0.9,"interpolate":"catmull-rom","clip":true},"encoding":{"detail":{"field":"c","type":"nominal"},"order":{"field":"o","type":"quantitative"}}},
      {"data":{"name":"viscL"},"mark":{"type":"point","shape":"M-1,-0.615L1,-0.615L1,0.615L-1,0.615Z","size":169,"filled":true,"color":"#fff","opacity":1,"strokeWidth":0}},
      {"data":{"name":"viscL"},"mark":{"type":"text","fontSize":8,"color":"#000","baseline":"middle"},"encoding":{"text":{"field":"c"}}},
      {"data":{"name":"viscP"},"mark":{"type":"point","shape":"M-1,-0.125L1,-0.125L1,0.125L-1,0.125Z","size":2209,"filled":true,"color":"#fff","opacity":1,"strokeWidth":0,"xOffset":24.5,"yOffset":-5}},
      {"data":{"name":"viscP"},"mark":{"type":"text","fontSize":5.8,"color":"#000","align":"left","baseline":"middle","dx":2,"dy":-5},"encoding":{"text":{"field":"t"}}}
     ]}
   ]}
],"spacing":20,"resolve":{"scale":{"color":"independent","stroke":"independent"}}},
{"hconcat":[
 {"width":112,"height":110,"title":{"text":"Turbidity(NTU)","offset":-4},"resolve":{"scale":{"x":"independent","y":"independent"}},
   "layer":[
    {"data":{"name":"turb"},"mark":{"type":"rect","strokeWidth":0.6},
     "encoding":{
      "x":{"field":"a","type":"quantitative","bin":{"step":0.1,"extent":[1,3]},"scale":{"domain":[1,3],"nice":false,"zero":false},"axis":null},
      "y":{"field":"b","type":"quantitative","bin":{"step":8,"extent":[20,60]},"scale":{"domain":[20,60],"nice":false,"zero":false},"axis":null},
      "color":{"field":"v","type":"quantitative","scale":{"domain":[280,300,318,335,350,368,395,415,440],"range":["#0c0cd8","#1f4cf5","#3c9af5","#8ae6f5","#80e8a0","#86e234","#c6ee24","#f4ec1c","#d4781a"],"interpolate":"rgb"},"legend":null},
      "stroke":{"field":"v","type":"quantitative","scale":{"domain":[280,300,318,335,350,368,395,415,440],"range":["#0c0cd8","#1f4cf5","#3c9af5","#8ae6f5","#80e8a0","#86e234","#c6ee24","#f4ec1c","#d4781a"],"interpolate":"rgb"},"legend":null}}},
    {"encoding":{
      "x":{"field":"a","type":"quantitative","scale":{"domain":[1,3],"nice":false,"zero":false},"axis":{"orient":"bottom","values":[1,1.5,2,2.5,3],"format":".1f"},"title":"A:Concentration/%"},
      "y":{"field":"b","type":"quantitative","scale":{"domain":[20,60],"nice":false,"zero":false},"axis":{"orient":"left","values":[20,30,40,50,60],"titlePadding":10},"title":"B:Time(Minutes)"}},
     "layer":[
      {"data":{"name":"turbC"},"mark":{"type":"line","color":"#111","strokeWidth":0.9,"interpolate":"catmull-rom","clip":true},"encoding":{"detail":{"field":"c","type":"nominal"},"order":{"field":"o","type":"quantitative"}}},
      {"data":{"name":"turbL"},"mark":{"type":"point","shape":"M-1,-0.615L1,-0.615L1,0.615L-1,0.615Z","size":169,"filled":true,"color":"#fff","opacity":1,"strokeWidth":0}},
      {"data":{"name":"turbL"},"mark":{"type":"text","fontSize":8,"color":"#000","baseline":"middle"},"encoding":{"text":{"field":"c"}}},
      {"data":{"name":"turbP"},"mark":{"type":"point","shape":"M-1,-0.125L1,-0.125L1,0.125L-1,0.125Z","size":2209,"filled":true,"color":"#fff","opacity":1,"strokeWidth":0,"xOffset":24.5,"yOffset":-5}},
      {"data":{"name":"turbP"},"mark":{"type":"text","fontSize":5.8,"color":"#000","align":"left","baseline":"middle","dx":2,"dy":-5},"encoding":{"text":{"field":"t"}}}
     ]}
   ]},
 {"width":113,"height":110,"title":{"text":"Gel strength(lb/100ft²)","offset":-4},"resolve":{"scale":{"x":"independent","y":"independent"}},
   "layer":[
    {"data":{"name":"gel"},"mark":{"type":"rect","strokeWidth":0.6},
     "encoding":{
      "x":{"field":"a","type":"quantitative","bin":{"step":0.1,"extent":[1,3]},"scale":{"domain":[1,3],"nice":false,"zero":false},"axis":null},
      "y":{"field":"b","type":"quantitative","bin":{"step":8,"extent":[20,60]},"scale":{"domain":[20,60],"nice":false,"zero":false},"axis":null},
      "color":{"field":"v","type":"quantitative","scale":{"domain":[7.6,7.9,8.3,8.8,9.15,9.5,10.1,10.5,10.85],"range":["#0c0cd8","#1f4cf5","#3c9af5","#8ae6f5","#80e8a0","#86e234","#c6ee24","#f4ec1c","#d4781a"],"interpolate":"rgb"},"legend":null},
      "stroke":{"field":"v","type":"quantitative","scale":{"domain":[7.6,7.9,8.3,8.8,9.15,9.5,10.1,10.5,10.85],"range":["#0c0cd8","#1f4cf5","#3c9af5","#8ae6f5","#80e8a0","#86e234","#c6ee24","#f4ec1c","#d4781a"],"interpolate":"rgb"},"legend":null}}},
    {"encoding":{
      "x":{"field":"a","type":"quantitative","scale":{"domain":[1,3],"nice":false,"zero":false},"axis":{"orient":"bottom","values":[1,1.5,2,2.5,3],"format":".1f"},"title":"A:Concentration/%"},
      "y":{"field":"b","type":"quantitative","scale":{"domain":[20,60],"nice":false,"zero":false},"axis":{"orient":"left","values":[20,30,40,50,60]},"title":"B:Time(Minutes)"}},
     "layer":[
      {"data":{"name":"gelC"},"mark":{"type":"line","color":"#111","strokeWidth":0.9,"interpolate":"catmull-rom","clip":true},"encoding":{"detail":{"field":"c","type":"nominal"},"order":{"field":"o","type":"quantitative"}}},
      {"data":{"name":"gelL"},"mark":{"type":"point","shape":"M-1,-0.667L1,-0.667L1,0.667L-1,0.667Z","size":144,"filled":true,"color":"#fff","opacity":1,"strokeWidth":0}},
      {"data":{"name":"gelL"},"mark":{"type":"text","fontSize":8,"color":"#000","baseline":"middle"},"encoding":{"text":{"field":"c"}}},
      {"data":{"name":"gelP"},"mark":{"type":"point","shape":"M-1,-0.125L1,-0.125L1,0.125L-1,0.125Z","size":2209,"filled":true,"color":"#fff","opacity":1,"strokeWidth":0,"xOffset":24.5,"yOffset":-5}},
      {"data":{"name":"gelP"},"mark":{"type":"text","fontSize":5.8,"color":"#000","align":"left","baseline":"middle","dx":2,"dy":-5},"encoding":{"text":{"field":"t"}}}
     ]}
   ]}
],"spacing":13,"resolve":{"scale":{"color":"independent","stroke":"independent"}}}
],
"spacing":7,
"center":true,
"resolve":{"scale":{"color":"independent","stroke":"independent"}}
}
